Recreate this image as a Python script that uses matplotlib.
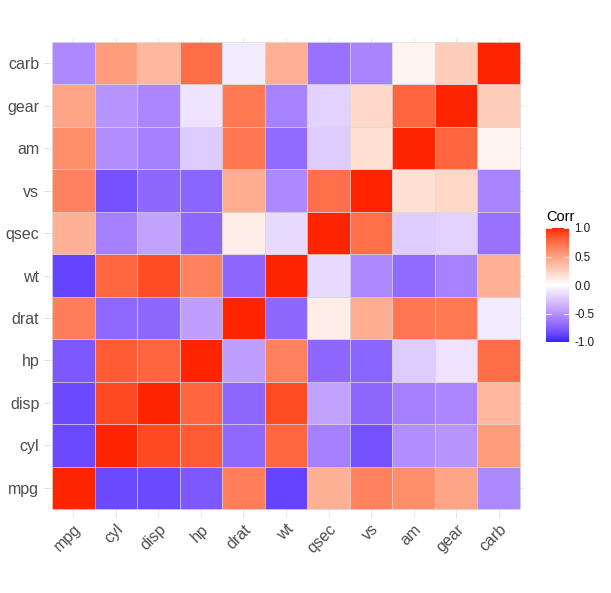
import numpy as np
import matplotlib
matplotlib.use("Agg")
import matplotlib.pyplot as plt
from matplotlib.patches import Rectangle

variables = ["mpg", "cyl", "disp", "hp", "drat", "wt", "qsec", "vs", "am", "gear", "carb"]
corr = [
    [1.00, -0.85, -0.85, -0.78, 0.68, -0.87, 0.42, 0.66, 0.60, 0.48, -0.55],
    [-0.85, 1.00, 0.90, 0.83, -0.70, 0.78, -0.59, -0.81, -0.52, -0.49, 0.53],
    [-0.85, 0.90, 1.00, 0.79, -0.71, 0.89, -0.43, -0.71, -0.59, -0.56, 0.39],
    [-0.78, 0.83, 0.79, 1.00, -0.45, 0.66, -0.71, -0.72, -0.24, -0.13, 0.75],
    [0.68, -0.70, -0.71, -0.45, 1.00, -0.71, 0.09, 0.44, 0.71, 0.70, -0.09],
    [-0.87, 0.78, 0.89, 0.66, -0.71, 1.00, -0.17, -0.55, -0.69, -0.58, 0.43],
    [0.42, -0.59, -0.43, -0.71, 0.09, -0.17, 1.00, 0.74, -0.23, -0.21, -0.66],
    [0.66, -0.81, -0.71, -0.72, 0.44, -0.55, 0.74, 1.00, 0.17, 0.21, -0.57],
    [0.60, -0.52, -0.59, -0.24, 0.71, -0.69, -0.23, 0.17, 1.00, 0.79, 0.06],
    [0.48, -0.49, -0.56, -0.13, 0.70, -0.58, -0.21, 0.21, 0.79, 1.00, 0.27],
    [-0.55, 0.53, 0.39, 0.75, -0.09, 0.43, -0.66, -0.57, 0.06, 0.27, 1.00],
]
legend_ticks = [-1.0, -0.5, 0.0, 0.5, 1.0]

# ---- Lab interpolation (like ggplot2 scale_fill_gradient2) ----
WHITE_REF = np.array([0.95047, 1.0, 1.08883])
M = np.array([[0.4124564, 0.3575761, 0.1804375],
              [0.2126729, 0.7151522, 0.0721750],
              [0.0193339, 0.1191920, 0.9503041]])
Minv = np.linalg.inv(M)

def rgb2lab(rgb):
    rgb = np.asarray(rgb, float)
    lin = np.where(rgb <= 0.04045, rgb / 12.92, ((rgb + 0.055) / 1.055) ** 2.4)
    xyz = M @ lin / WHITE_REF
    f = np.where(xyz > 216 / 24389, np.cbrt(xyz), (24389 / 27 * xyz + 16) / 116)
    return np.array([116 * f[1] - 16, 500 * (f[0] - f[1]), 200 * (f[1] - f[2])])

def lab2rgb(lab):
    L, a, b = lab
    fy = (L + 16) / 116
    fx = fy + a / 500
    fz = fy - b / 200
    def finv(t):
        return np.where(t ** 3 > 216 / 24389, t ** 3, (116 * t - 16) / (24389 / 27))
    xyz = np.array([finv(fx), finv(fy), finv(fz)]) * WHITE_REF
    lin = Minv @ xyz
    lin = np.clip(lin, 0, 1)
    rgb = np.where(lin <= 0.0031308, 12.92 * lin, 1.055 * lin ** (1 / 2.4) - 0.055)
    return np.clip(rgb, 0, 1)

LAB_LOW = rgb2lab([0x30 / 255, 0x25 / 255, 1.0])
LAB_MID = rgb2lab([1, 1, 1])
LAB_HIGH = rgb2lab([1.0, 0x24 / 255, 0.0])

def corr_color(v):
    v = max(-1.0, min(1.0, v))
    if v < 0:
        t = v + 1.0
        lab = LAB_LOW + (LAB_MID - LAB_LOW) * t
    else:
        lab = LAB_MID + (LAB_HIGH - LAB_MID) * v
    return lab2rgb(lab)

W, H = 611, 593
fig = plt.figure(figsize=(W / 100, H / 100), dpi=100)
fig.patch.set_facecolor("white")

n = len(variables)
ax = fig.add_axes([47.7 / W, (H - 513.2) / H, 476.6 / W, 475.4 / H])
ax.set_xlim(-0.6, n - 1 + 0.6)
ax.set_ylim(-0.6, n - 1 + 0.6)
ax.set_facecolor("white")
for s in ax.spines.values():
    s.set_visible(False)

# grid lines (theme_minimal)
for i in range(n):
    ax.axhline(i, color="#EBEBEB", lw=0.8, zorder=0)
    ax.axvline(i, color="#EBEBEB", lw=0.8, zorder=0)

for r in range(n):
    for c in range(n):
        ax.add_patch(Rectangle((c - 0.5, r - 0.5), 1, 1,
                               facecolor=corr_color(corr[r][c]),
                               edgecolor="#d6d6d6", lw=0.4, zorder=2))

ax.set_xticks(range(n))
ax.set_yticks(range(n))
ax.set_xticklabels(variables, rotation=45, ha="right", va="top",
                   rotation_mode="anchor", fontsize=11.5, color="#4D4D4D",
                   family="Liberation Sans")
ax.set_yticklabels(variables, fontsize=11.5, color="#4D4D4D", family="Liberation Sans")
ax.tick_params(axis="both", length=3, width=0.6, color="#D9D9D9", pad=3)

# ---- colorbar legend ----
cax = fig.add_axes([546 / W, (H - 342) / H, 23 / W, 114 / H])
vals = np.linspace(-1, 1, 300)
grad = np.array([corr_color(v) for v in vals])[:, None, :]
cax.imshow(grad, aspect="auto", origin="lower", extent=[0, 1, -1, 1])
cax.set_xlim(0, 1)
cax.set_ylim(-1, 1)
for s in cax.spines.values():
    s.set_visible(False)
cax.set_xticks([])
cax.yaxis.tick_right()
cax.set_yticks(legend_ticks)
cax.set_yticklabels([f"{t:.1f}" for t in legend_ticks], fontsize=8.4,
                    color="#1a1a1a", family="Liberation Sans")
cax.tick_params(axis="y", length=0, pad=4)
for t in legend_ticks:
    cax.plot([0, 0.2], [t, t], color="white", lw=0.6)
    cax.plot([0.8, 1], [t, t], color="white", lw=0.6)
fig.text(546 / W, (H - 217) / H, "Corr", fontsize=10.5, color="black",
         family="Liberation Sans", va="center", ha="left")

fig.savefig("out.png", dpi=100, facecolor="white")
